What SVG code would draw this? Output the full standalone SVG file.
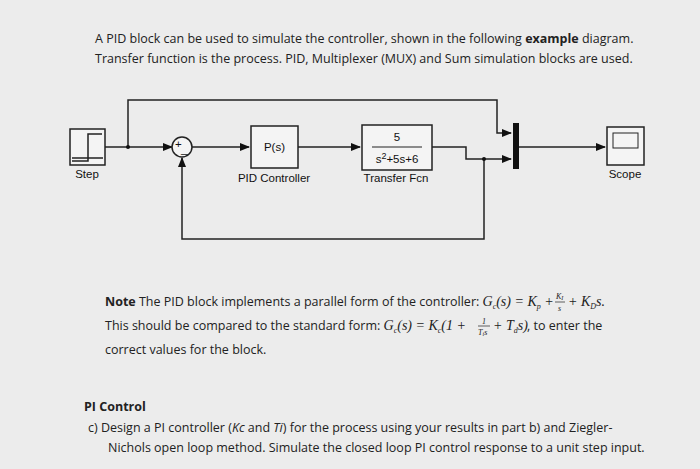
<svg xmlns="http://www.w3.org/2000/svg" width="700" height="469" viewBox="0 0 700 469">
<style>
.t{font-family:"Open Sans","Liberation Sans",sans-serif;font-size:12.5px;fill:#222}
.b{font-family:"Liberation Sans",sans-serif;font-size:11.5px;fill:#111}
.m{font-family:"Liberation Serif",serif;font-style:italic;font-size:14px;fill:#222}
.s{font-family:"Liberation Serif",serif;font-style:italic;font-size:8px;fill:#222}
.blk{fill:#f4f4f4;stroke:#222;stroke-width:1.5}
.w{fill:none;stroke:#222;stroke-width:1.5}
</style>
<defs><marker id="a" markerWidth="10" markerHeight="8" refX="9" refY="4" orient="auto" markerUnits="userSpaceOnUse"><path d="M0,0L10,4L0,8z" fill="#111"/></marker></defs>
<rect width="700" height="469" fill="#ececec"/>
<text class="t" x="95" y="43">A PID block can be used to simulate the controller, shown in the following <tspan font-weight="bold">example</tspan> diagram.</text>
<text class="t" x="95" y="63">Transfer function is the process. PID, Multiplexer (MUX) and Sum simulation blocks are used.</text>
<g id="connectors">
<path class="w" d="M105,147H172" marker-end="url(#a)"/>
<path class="w" d="M128,147V100H497V133H511" marker-end="url(#a)"/>
<path class="w" d="M192,147H249" marker-end="url(#a)"/>
<path class="w" d="M298,147H360" marker-end="url(#a)"/>
<path class="w" d="M432,147H466V159H511" marker-end="url(#a)"/>
<path class="w" d="M484,159V239H182V158" marker-end="url(#a)"/>
<path class="w" d="M518,147H605" marker-end="url(#a)"/>
<circle cx="128" cy="147" r="2" fill="#111"/>
<circle cx="484" cy="159" r="2" fill="#111"/>
</g>
<g id="step"><rect class="blk" x="70" y="129" width="35" height="36"/><path class="w" d="M72,161H88V134H102M72,158H103" stroke-width="1"/><text class="b" x="87" y="178" text-anchor="middle">Step</text></g>
<g id="sum"><circle class="blk" cx="182" cy="147" r="10"/><text class="b" x="175" y="148" font-size="8">+</text><text class="b" x="181" y="153" font-size="8">_</text></g>
<g id="pid"><rect class="blk" x="251" y="126" width="47" height="42"/><text class="b" x="274.5" y="151" text-anchor="middle">P(s)</text><text class="b" x="274" y="182" text-anchor="middle">PID Controller</text></g>
<g id="tf"><rect class="blk" x="362" y="125" width="70" height="45"/><text class="b" x="397" y="141" text-anchor="middle">5</text><path d="M372,147H422" stroke="#222"/><text class="b" x="397" y="163" text-anchor="middle">s<tspan dy="-4" font-size="9">2</tspan><tspan dy="4">+5s+6</tspan></text><text class="b" x="396" y="182" text-anchor="middle">Transfer Fcn</text></g>
<g id="mux"><rect x="513" y="123" width="6" height="46" fill="#111"/></g>
<g id="scope"><rect class="blk" x="607" y="127" width="37" height="38"/><rect x="613" y="133" width="25" height="15" fill="none" stroke="#222"/><text class="b" x="625" y="178" text-anchor="middle">Scope</text></g>
<text class="t" x="105" y="306"><tspan font-weight="bold">Note</tspan> The PID block implements a parallel form of the controller: <tspan class="m">G</tspan><tspan class="s" dy="3">c</tspan><tspan class="m" dy="-3">(s) = K</tspan><tspan class="s" dy="3">p</tspan><tspan class="m" dy="-3"> +</tspan></text>
<text class="s" x="556" y="299">K<tspan font-size="6" dy="1">I</tspan></text><path d="M555,302H565" stroke="#222" stroke-width="0.7"/><text class="s" x="558" y="311">s</text>
<text class="m" x="568" y="306">+ K<tspan class="s" dy="3">D</tspan><tspan dy="-3">s.</tspan></text>
<text class="t" x="105" y="330">This should be compared to the standard form: <tspan class="m">G</tspan><tspan class="s" dy="3">c</tspan><tspan class="m" dy="-3">(s) = K</tspan><tspan class="s" dy="3">c</tspan><tspan class="m" dy="-3">(1 +</tspan></text>
<text class="s" x="482" y="324">1</text><path d="M478,326H490" stroke="#222" stroke-width="0.7"/><text class="s" x="478" y="335">T<tspan font-size="6" dy="1">i</tspan><tspan dy="-1">s</tspan></text>
<text class="m" x="493" y="330">+ T<tspan class="s" dy="3">d</tspan><tspan dy="-3">s)</tspan></text><text class="t" x="527" y="330">, to enter the</text>
<text class="t" x="105" y="354">correct values for the block.</text>
<text class="t" x="84" y="411" font-weight="bold" font-size="12">PI Control</text>
<text class="t" x="88" y="432">c)  Design a PI controller (<tspan font-style="italic">Kc</tspan> and <tspan font-style="italic">Ti</tspan>) for the process using your results in part b) and Ziegler-</text>
<text class="t" x="108" y="452">Nichols open loop method. Simulate the closed loop PI control response to a unit step input.</text>
</svg>
